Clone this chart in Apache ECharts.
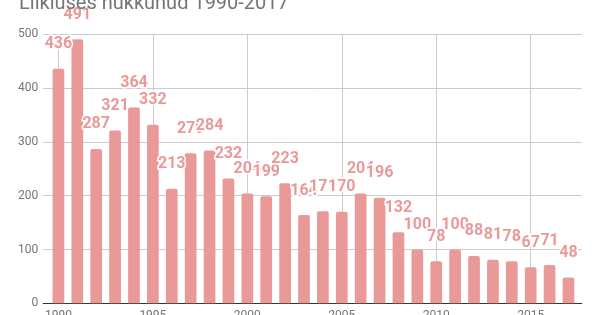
<!DOCTYPE html>
<html>
<head>
<meta charset="utf-8">
<script src="https://cdn.jsdelivr.net/npm/echarts@6/dist/echarts.min.js"></script>
<style>
html,body{margin:0;padding:0;background:#fff;}
#chart{width:600px;height:315px;}
</style>
</head>
<body>
<div id="chart"></div>
<script>
const titleText = "Liikluses hukkunud 1990-2017";
const years = [1990,1991,1992,1993,1994,1995,1996,1997,1998,1999,2000,2001,2002,2003,2004,2005,2006,2007,2008,2009,2010,2011,2012,2013,2014,2015,2016,2017];
const deaths = [436,491,287,321,364,332,213,279,284,232,204,199,223,164,171,170,204,196,132,100,78,100,88,81,78,67,71,48];
const xTicks = [1990,1995,2000,2005,2010,2015];
const yTicks = [0,100,200,300,400,500];

const chart = echarts.init(document.getElementById('chart'), null, {renderer:'canvas'});
const barColor = '#ea9999';
chart.setOption({
  animation: false,
  backgroundColor: '#fff',
  title: {
    text: titleText,
    left: 19, top: -6, padding: 0,
    textStyle: {fontFamily: 'Roboto', fontSize: 20, fontWeight: 'normal', color: '#757575'}
  },
  grid: {left: 43.3, right: 18.3, top: 34.3, bottom: 11.7, containLabel: false, outerBoundsMode: 'none'},
  xAxis: {
    type: 'value',
    min: 1989.2, max: 2017.7,
    axisLine: {show: true, onZero: true, lineStyle: {color: '#333', width: 1.2}},
    axisTick: {show: false, customValues: xTicks},
    axisLabel: {customValues: xTicks, color: '#757575', fontFamily: 'Roboto', fontSize: 12, margin: 7, formatter: v => String(v)},
    splitLine: {show: true, lineStyle: {color: '#cccccc', width: 1}}
  },
  yAxis: {
    type: 'value',
    min: yTicks[0], max: yTicks[yTicks.length-1], interval: 100,
    axisLine: {show: false},
    axisTick: {show: false},
    axisLabel: {color: '#757575', fontFamily: 'Roboto', fontSize: 12, margin: 5},
    splitLine: {show: true, lineStyle: {color: '#cccccc', width: 1}}
  },
  series: [{
    type: 'bar',
    data: years.map((y, i) => [y, deaths[i]]),
    barWidth: 11.7,
    itemStyle: {color: barColor, borderRadius: [2,2,0,0]},
    label: {
      show: true, position: 'top', distance: 16.5,
      color: barColor, fontFamily: 'Roboto', fontSize: 16, fontWeight: 'bold',
      textBorderColor: '#fff', textBorderWidth: 3,
      formatter: p => String(p.value[1])
    }
  }]
});
</script>
</body>
</html>
